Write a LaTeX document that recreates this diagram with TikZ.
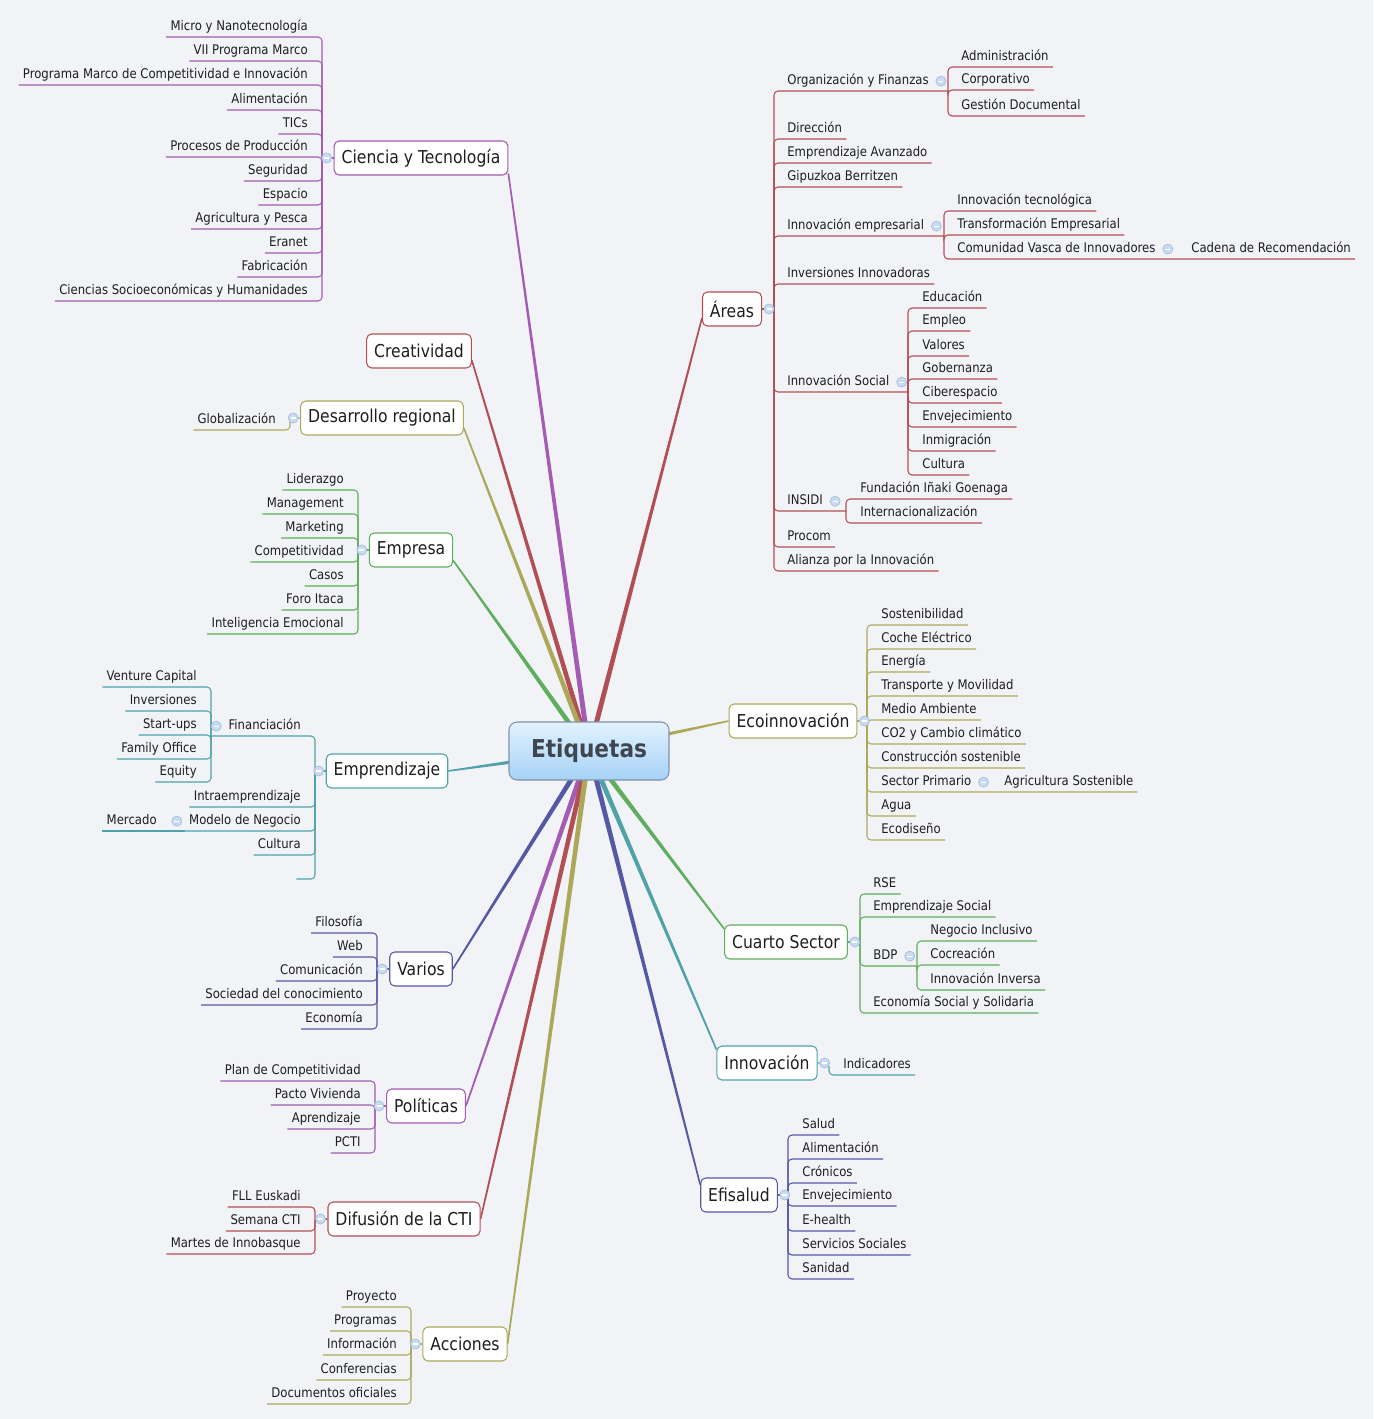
\documentclass[tikz,border=0pt]{standalone}
\usepackage{fontspec}
\setmainfont{DejaVu Sans}[FakeStretch=0.88]
\usepackage{tikz}
\usetikzlibrary{calc,backgrounds}
\usepackage{xcolor}

\definecolor{paper}{HTML}{F2F3F7}
\definecolor{ink}{HTML}{1E1E1E}
\definecolor{purpura}{HTML}{A35BB3}
\definecolor{rojo}{HTML}{B24F55}
\definecolor{oliva}{HTML}{ABA85A}
\definecolor{verde}{HTML}{5EAE5E}
\definecolor{turquesa}{HTML}{4FA3A8}
\definecolor{azul}{HTML}{5458A6}
\definecolor{rootlight}{HTML}{E2F2FF}
\definecolor{rootdark}{HTML}{A6D2F6}
\definecolor{rootedge}{HTML}{7F93A8}
\definecolor{rootink}{HTML}{3E464F}
\definecolor{knobfill}{HTML}{C9DBF1}
\definecolor{knobedge}{HTML}{A5BDE0}

\newcommand\leaffont{\fontsize{7.55pt}{8.5pt}\selectfont}
\newcommand\topicfont{\fontsize{10.1pt}{11.5pt}\selectfont}
\newcommand\rootfont{\fontsize{14pt}{16pt}\selectfont\bfseries}
% tapered main branch
\newcommand\limb[3]{\fill[#1] ($(#2)!1.5pt!90:(#3)$) -- ($(#3)!0.45pt!-90:(#2)$) -- ($(#3)!0.45pt!90:(#2)$) -- ($(#2)!1.5pt!-90:(#3)$) -- cycle;}

\tikzset{
  root/.style={draw=rootedge, line width=0.6pt, rounded corners=0.16cm, top color=rootlight, bottom color=rootdark,
    minimum width=3.2cm, minimum height=1.16cm, font=\rootfont, text=rootink},
  topic/.style={draw=#1, fill=white, line width=0.6pt, rounded corners=0.1cm, font=\topicfont, text=ink,
    inner xsep=0.15cm, minimum height=0.68cm},
  leaf/.style={font=\leaffont, text=ink, inner xsep=0.08cm, inner ysep=0.06cm, text height=0.2cm, text depth=0.06cm},
  rleaf/.style={leaf, anchor=south west},
  lleaf/.style={leaf, anchor=south east},
  twig/.style={draw=#1, line width=0.6pt, rounded corners=0.08cm},
  knob/.style={circle, draw=knobedge, fill=knobfill, line width=0.4pt, minimum size=0.2cm, inner sep=0pt,
    path picture={\draw[white, line width=0.6pt] ([xshift=0.05cm]path picture bounding box.west) -- ([xshift=-0.05cm]path picture bounding box.east);}}
}

\begin{document}
\begin{tikzpicture}[x=0.02cm, y=-0.02cm]
% centre
\node[root] (eti) at (589,751) {Etiquetas};

% main topics
\node[topic=purpura] (cyt) at (421,158) {Ciencia y Tecnología};
\node[topic=rojo] (cre) at (419,351) {Creatividad};
\node[topic=oliva] (des) at (382,418) {Desarrollo regional};
\node[topic=verde] (emp) at (411,550) {Empresa};
\node[topic=turquesa] (epz) at (387,771) {Emprendizaje};
\node[topic=azul] (var) at (421,969) {Varios};
\node[topic=purpura] (pol) at (426,1106) {Políticas};
\node[topic=rojo] (dif) at (404,1219) {Difusión de la CTI};
\node[topic=oliva] (acc) at (465,1344) {Acciones};
\node[topic=rojo] (are) at (732,309) {Áreas};
\node[topic=oliva] (eco) at (793,721) {Ecoinnovación};
\node[topic=verde] (cua) at (786,942) {Cuarto Sector};
\node[topic=turquesa] (ino) at (767,1063) {Innovación};
\node[topic=azul] (efi) at (739,1195) {Efisalud};

\begin{pgfonlayer}{background}
\fill[paper] (0,0) rectangle (1373,1419);
\limb{purpura}{eti}{cyt.-10}
\limb{rojo}{eti}{cre.-10}
\limb{oliva}{eti}{des.-7}
\limb{verde}{eti}{emp.-14}
\limb{turquesa}{eti}{epz.east}
\limb{azul}{eti}{var.east}
\limb{purpura}{eti}{pol.east}
\limb{rojo}{eti}{dif.east}
\limb{oliva}{eti}{acc.east}
\limb{rojo}{eti}{are.197}
\limb{oliva}{eti}{eco.west}
\limb{verde}{eti}{cua.168}
\limb{turquesa}{eti}{ino.165}
\limb{azul}{eti}{efi.165}
\end{pgfonlayer}

% Ciencia y Tecnologia
\coordinate (cyt-j) at (322,158);
\draw[twig=purpura] (cyt) -- (cyt-j);
\foreach \yy/\lbl [count=\k] in {37/Micro y Nanotecnología, 61/VII Programa Marco,
    85/Programa Marco de Competitividad e Innovación, 110/Alimentación, 134/TICs,
    157/Procesos de Producción, 181/Seguridad, 205/Espacio, 229/Agricultura y Pesca,
    253/Eranet, 277/Fabricación, 301/Ciencias Socioeconómicas y Humanidades}{
  \node[lleaf] (cyt\k) at (312,\yy) {\lbl};
  \draw[twig=purpura] (cyt-j) |- (cyt\k.south west);
}

% Desarrollo regional
\coordinate (des-j) at (290,418);
\node[lleaf] (glo) at (280,430) {Globalización};
\draw[twig=oliva] (des) -- (des-j) |- (glo.south west);

% Empresa
\coordinate (emp-j) at (358,550);
\draw[twig=verde] (emp) -- (emp-j);
\foreach \yy/\lbl [count=\k] in {490/Liderazgo, 514/Management, 538/Marketing, 562/Competitividad,
    586/Casos, 610/Foro Itaca, 634/Inteligencia Emocional}{
  \node[lleaf] (emp\k) at (348,\yy) {\lbl};
  \draw[twig=verde] (emp-j) |- (emp\k.south west);
}

% Emprendizaje
\coordinate (epz-j) at (315,771);
\draw[twig=turquesa] (epz) -- (epz-j);
\node[lleaf] (fin) at (305,736) {Financiación};
\coordinate (fin-j) at (211,736);
\draw[twig=turquesa] (epz-j) |- (fin-j);
\foreach \yy/\lbl [count=\k] in {687/Venture Capital, 711/Inversiones, 735/Start-ups,
    759/Family Office, 782/Equity}{
  \node[lleaf] (fin\k) at (201,\yy) {\lbl};
  \draw[twig=turquesa] (fin-j) |- (fin\k.south west);
}
\foreach \yy/\lbl [count=\k] in {807/Intraemprendizaje, 855/Cultura}{
  \node[lleaf] (epz\k) at (305,\yy) {\lbl};
  \draw[twig=turquesa] (epz-j) |- (epz\k.south west);
}
\node[lleaf] (mng) at (305,831) {Modelo de Negocio};
\draw[twig=turquesa] (epz-j) |- (mng.south west);
\node[lleaf] (mer) at (161,831) {Mercado};
\draw[twig=turquesa] (mng.south west) -- (mer.south west);
\node[lleaf] (epz-v) at (305,879) {};
\draw[twig=turquesa] (epz-j) |- (epz-v.south west);

% Varios
\coordinate (var-j) at (377,969);
\draw[twig=azul] (var) -- (var-j);
\foreach \yy/\lbl [count=\k] in {933/Filosofía, 957/Web, 981/Comunicación,
    1005/Sociedad del conocimiento, 1029/Economía}{
  \node[lleaf] (var\k) at (367,\yy) {\lbl};
  \draw[twig=azul] (var-j) |- (var\k.south west);
}

% Politicas
\coordinate (pol-j) at (375,1106);
\draw[twig=purpura] (pol) -- (pol-j);
\foreach \yy/\lbl [count=\k] in {1081/Plan de Competitividad, 1105/Pacto Vivienda,
    1129/Aprendizaje, 1153/PCTI}{
  \node[lleaf] (pol\k) at (365,\yy) {\lbl};
  \draw[twig=purpura] (pol-j) |- (pol\k.south west);
}

% Difusion de la CTI
\coordinate (dif-j) at (315,1219);
\draw[twig=rojo] (dif) -- (dif-j);
\foreach \yy/\lbl [count=\k] in {1207/FLL Euskadi, 1231/Semana CTI, 1254/Martes de Innobasque}{
  \node[lleaf] (dif\k) at (305,\yy) {\lbl};
  \draw[twig=rojo] (dif-j) |- (dif\k.south west);
}

% Acciones
\coordinate (acc-j) at (411,1344);
\draw[twig=oliva] (acc) -- (acc-j);
\foreach \yy/\lbl [count=\k] in {1307/Proyecto, 1331/Programas, 1355/Información,
    1380/Conferencias, 1404/Documentos oficiales}{
  \node[lleaf] (acc\k) at (401,\yy) {\lbl};
  \draw[twig=oliva] (acc-j) |- (acc\k.south west);
}

% Areas
\coordinate (are-j) at (774,309);
\draw[twig=rojo] (are) -- (are-j);
\foreach \yy/\lbl [count=\k] in {139/Dirección, 163/Emprendizaje Avanzado, 187/Gipuzkoa Berritzen,
    284/Inversiones Innovadoras, 547/Procom, 571/Alianza por la Innovación}{
  \node[rleaf] (are\k) at (783,\yy) {\lbl};
  \draw[twig=rojo] (are-j) |- (are\k.south east);
}
\node[rleaf] (orf) at (783,91) {Organización y Finanzas};
\coordinate (orf-j) at (948,91);
\draw[twig=rojo] (are-j) |- (orf-j);
\foreach \yy/\lbl [count=\k] in {67/Administración, 90/Corporativo, 116/Gestión Documental}{
  \node[rleaf] (orf\k) at (957,\yy) {\lbl};
  \draw[twig=rojo] (orf-j) |- (orf\k.south east);
}
\node[rleaf] (iem) at (783,236) {Innovación empresarial};
\coordinate (iem-j) at (944,236);
\draw[twig=rojo] (are-j) |- (iem-j);
\foreach \yy/\lbl [count=\k] in {211/Innovación tecnológica, 235/Transformación Empresarial}{
  \node[rleaf] (iem\k) at (953,\yy) {\lbl};
  \draw[twig=rojo] (iem-j) |- (iem\k.south east);
}
\node[rleaf] (cvi) at (953,259) {Comunidad Vasca de Innovadores};
\node[rleaf] (cad) at (1187,259) {Cadena de Recomendación};
\draw[twig=rojo] (iem-j) |- (cvi.south east) -- (cad.south east);
\node[rleaf] (isoc) at (783,392) {Innovación Social};
\coordinate (isoc-j) at (908,392);
\draw[twig=rojo] (are-j) |- (isoc-j);
\foreach \yy/\lbl [count=\k] in {308/Educación, 331/Empleo, 356/Valores, 379/Gobernanza,
    403/Ciberespacio, 427/Envejecimiento, 451/Inmigración, 475/Cultura}{
  \node[rleaf] (isoc\k) at (918,\yy) {\lbl};
  \draw[twig=rojo] (isoc-j) |- (isoc\k.south east);
}
\node[rleaf] (ins) at (783,511) {INSIDI};
\coordinate (ins-j) at (846,511);
\draw[twig=rojo] (are-j) |- (ins-j);
\foreach \yy/\lbl [count=\k] in {499/Fundación Iñaki Goenaga, 523/Internacionalización}{
  \node[rleaf] (ins\k) at (856,\yy) {\lbl};
  \draw[twig=rojo] (ins-j) |- (ins\k.south east);
}

% Ecoinnovacion
\coordinate (eco-j) at (867,721);
\draw[twig=oliva] (eco) -- (eco-j);
\foreach \yy/\lbl [count=\k] in {625/Sostenibilidad, 649/Coche Eléctrico, 672/Energía,
    696/Transporte y Movilidad, 720/Medio Ambiente, 744/CO2 y Cambio climático,
    768/Construcción sostenible, 816/Agua, 840/Ecodiseño}{
  \node[rleaf] (eco\k) at (877,\yy) {\lbl};
  \draw[twig=oliva] (eco-j) |- (eco\k.south east);
}
\node[rleaf] (spr) at (877,792) {Sector Primario};
\node[rleaf] (ags) at (1000,792) {Agricultura Sostenible};
\draw[twig=oliva] (eco-j) |- (spr.south east) -- (ags.south east);

% Cuarto Sector
\coordinate (cua-j) at (860,942);
\draw[twig=verde] (cua) -- (cua-j);
\foreach \yy/\lbl [count=\k] in {894/RSE, 917/Emprendizaje Social, 1013/Economía Social y Solidaria}{
  \node[rleaf] (cua\k) at (869,\yy) {\lbl};
  \draw[twig=verde] (cua-j) |- (cua\k.south east);
}
\node[rleaf] (bdp) at (869,966) {BDP};
\coordinate (bdp-j) at (917,966);
\draw[twig=verde] (cua-j) |- (bdp-j);
\foreach \yy/\lbl [count=\k] in {941/Negocio Inclusivo, 965/Cocreación, 990/Innovación Inversa}{
  \node[rleaf] (bdp\k) at (926,\yy) {\lbl};
  \draw[twig=verde] (bdp-j) |- (bdp\k.south east);
}

% Innovacion
\coordinate (ino-j) at (829,1063);
\node[rleaf] (ind) at (839,1075) {Indicadores};
\draw[twig=turquesa] (ino) -- (ino-j) |- (ind.south east);

% Efisalud
\coordinate (efi-j) at (788,1195);
\draw[twig=azul] (efi) -- (efi-j);
\foreach \yy/\lbl [count=\k] in {1135/Salud, 1159/Alimentación, 1183/Crónicos, 1206/Envejecimiento,
    1231/E-health, 1255/Servicios Sociales, 1279/Sanidad}{
  \node[rleaf] (efi\k) at (798,\yy) {\lbl};
  \draw[twig=azul] (efi-j) |- (efi\k.south east);
}

% collapse knobs
\foreach \t in {cyt, des, emp, epz, var, pol, dif, acc}
  \node[knob] (\t-k) at ([xshift=-0.14cm]\t.west) {};
\foreach \t in {are, eco, cua, ino, efi}
  \node[knob] (\t-k) at ([xshift=0.14cm]\t.east) {};
\foreach \t in {fin, mng}
  \node[knob] (\t-k) at ([xshift=-0.16cm]\t.west) {};
\foreach \t in {orf, iem, cvi, isoc, ins, spr, bdp}
  \node[knob] (\t-k) at ([xshift=0.16cm]\t.east) {};
\end{tikzpicture}
\end{document}
